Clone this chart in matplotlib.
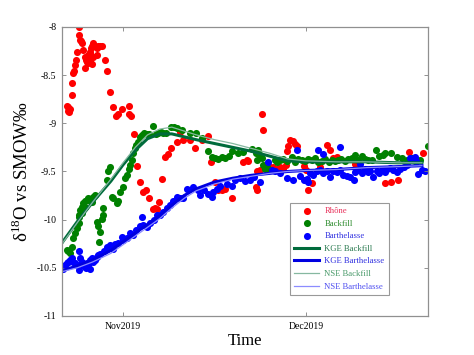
#libraries
import matplotlib
matplotlib.use("Agg")
from matplotlib import pyplot as plt
###########################################################
#data (days relative to 1 Nov 2019, delta18O in permil)
rhone_day = [-9.2, -9.0, -8.7, -8.8, -9.1, -8.4, -8.3, -8.15, -8.0, -7.9,
             -7.75, -7.6, -7.3, -7.2, -7.05, -6.9, -6.8, -6.5, -6.2, -6.1,
             -5.95, -5.7, -5.5, -5.4, -5.3, -5.1, -5.0, -4.9, -4.6, -4.3,
             -4.05, -3.8, -3.5, -5.95, -5.7, -5.4, -5.1, -6.2, -4.3, -4.9,
             -2.95, -2.6, -2.1, -1.7, -1.15, -0.8, -0.2, 0.9, 0.9, 1.3,
             1.8, 2.3, 2.8, 3.3, 3.8, 4.3, 4.9, 5.25, 5.5, 5.95,
             6.3, 6.9, 7.3, 7.8, 8.8, 9.3, 9.9, 10.9, 11.8, 12.9,
             14.0, 14.4, 15.1, 15.6, 16.2, 16.7, 17.8, 19.7, 20.3, 20.5,
             21.8, 21.9, 22.0, 22.5, 22.7, 22.9, 23.6, 23.8, 24.6, 25.2,
             25.7, 26.2, 26.7, 26.8, 27.1, 27.4, 27.8, 28.2, 28.5, 29.6,
             30.0, 30.4, 30.9, 32.3, 33.4, 33.9, 34.5, 35.0, 38.0, 43.0,
             44.0, 45.0, 46.9, 49.1]
rhone_val = [-8.82, -8.83, -8.85, -8.88, -8.87, -8.71, -8.58, -8.48, -8.46, -8.39,
             -8.34, -8.26, -8.00, -8.08, -8.13, -8.15, -8.17, -8.24, -8.31, -8.34,
             -8.33, -8.29, -8.27, -8.26, -8.22, -8.20, -8.19, -8.17, -8.20, -8.22,
             -8.20, -8.20, -8.20, -8.36, -8.37, -8.35, -8.38, -8.43, -8.29, -8.31,
             -8.34, -8.46, -8.68, -8.83, -8.92, -8.90, -8.85, -8.82, -8.90, -8.92,
             -9.11, -9.44, -9.61, -9.71, -9.69, -9.78, -9.89, -9.88, -9.89, -9.82,
             -9.58, -9.35, -9.32, -9.26, -9.19, -9.09, -9.17, -9.17, -9.26, -9.17,
             -9.13, -9.40, -9.61, -9.69, -9.69, -9.68, -9.78, -9.40, -9.38, -9.39,
             -9.66, -9.69, -9.50, -9.48, -8.90, -9.07, -9.42, -9.43, -9.45, -9.47,
             -9.45, -9.47, -9.43, -9.29, -9.24, -9.17, -9.18, -9.21, -9.24, -9.44,
             -9.48, -9.69, -9.62, -9.45, -9.23, -9.28, -9.36, -9.35, -9.42, -9.62,
             -9.61, -9.59, -9.30, -9.31]

backfill_day = [-9.2, -9.0, -8.7, -8.4, -8.15, -7.9, -7.6, -7.3, -7.15, -7.3,
                -7.05, -6.8, -6.8, -6.5, -6.5, -6.2, -6.2, -5.95, -5.7, -5.4,
                -5.1, -4.9, -4.6, -4.3, -4.05, -3.8, -3.9, -3.5, -3.25, -3.3,
                -2.7, -2.4, -2.1, -1.85, -1.6, -1.0, -0.8, -0.5, 0.05, 0.3,
                0.6, 0.9, 1.2, 1.4, 1.7, 2.0, 2.2, 2.5, 2.8, 3.1,
                3.4, 3.9, 4.3, 4.9, 5.4, 5.8, 6.2, 6.6, 7.05, 7.8,
                8.4, 8.9, 9.6, 11.0, 12.0, 12.9, 14.0, 14.5, 15.1, 15.6,
                16.2, 16.7, 17.3, 17.8, 18.9, 19.7, 21.1, 21.8, 22.2, 22.5,
                22.0, 22.7, 23.0, 23.3, 23.6, 24.1, 24.9, 25.2, 25.7, 26.3,
                26.8, 27.7, 28.2, 28.7, 29.3, 29.8, 30.4, 30.9, 31.5, 32.0,
                32.6, 33.1, 33.7, 34.2, 34.8, 35.3, 35.8, 36.4, 36.9, 37.5,
                38.0, 38.6, 39.1, 39.7, 40.2, 40.8, 41.5, 42.0, 42.6, 43.0,
                43.9, 44.9, 45.7, 46.5, 47.3, 48.0, 48.7, 50.0]
backfill_val = [-10.32, -10.33, -10.35, -10.28, -10.19, -10.14, -10.09, -10.04, -9.97, -9.95,
                -9.90, -9.87, -9.93, -9.83, -9.88, -9.81, -9.87, -9.80, -9.78, -9.81,
                -9.82, -9.76, -9.74, -10.02, -10.07, -10.13, -10.23, -9.99, -9.95, -9.88,
                -9.59, -9.50, -9.45, -9.76, -9.78, -9.83, -9.81, -9.71, -9.66, -9.57,
                -9.54, -9.47, -9.43, -9.38, -9.31, -9.26, -9.23, -9.19, -9.14, -9.12,
                -9.10, -9.11, -9.11, -9.03, -9.11, -9.10, -9.09, -9.10, -9.10, -9.04,
                -9.04, -9.05, -9.07, -9.10, -9.10, -9.15, -9.29, -9.35, -9.36, -9.37,
                -9.35, -9.36, -9.34, -9.29, -9.31, -9.30, -9.27, -9.31, -9.28, -9.33,
                -9.38, -9.36, -9.43, -9.47, -9.45, -9.48, -9.38, -9.40, -9.38, -9.37,
                -9.39, -9.35, -9.40, -9.37, -9.38, -9.39, -9.37, -9.38, -9.36, -9.40,
                -9.39, -9.37, -9.40, -9.38, -9.39, -9.38, -9.37, -9.39, -9.37, -9.36,
                -9.33, -9.38, -9.34, -9.37, -9.38, -9.38, -9.28, -9.34, -9.33, -9.31,
                -9.31, -9.35, -9.36, -9.38, -9.36, -9.40, -9.38, -9.24]

barth_day = [-9.8, -9.5, -9.2, -9.0, -8.7, -8.4, -8.15, -7.9, -7.6, -7.3,
             -7.3, -7.05, -6.8, -6.5, -6.2, -6.0, -5.95, -5.7, -5.5, -5.4,
             -5.1, -4.9, -4.6, -4.3, -4.05, -3.8, -3.2, -2.7, -2.1, -1.6,
             -1.3, -0.8, -0.2, 0.05, 0.6, 1.15, 1.7, 2.2, 2.8, 3.1,
             3.3, 3.9, 4.4, 5.0, 5.5, 6.1, 6.6, 7.2, 7.7, 8.25,
             8.8, 9.3, 9.9, 10.4, 11.5, 12.3, 12.6, 13.2, 14.0, 14.5,
             14.8, 15.4, 15.9, 17.0, 17.8, 18.4, 19.2, 20.0, 20.8, 21.4,
             22.5, 23.8, 24.4, 24.9, 25.7, 26.8, 27.9, 28.5, 29.0, 29.6,
             30.1, 30.4, 30.7, 31.2, 31.8, 32.0, 32.3, 32.8, 32.8, 33.4,
             33.9, 34.5, 35.0, 35.5, 35.6, 36.1, 36.7, 37.2, 37.8, 38.0,
             38.6, 38.9, 39.1, 39.7, 40.2, 40.5, 41.0, 41.6, 41.9, 42.4,
             43.0, 43.2, 43.8, 44.3, 44.9, 45.4, 46.0, 46.5, 47.0, 47.9,
             48.1, 48.4, 49.0, 49.5]
barth_val = [-10.51, -10.47, -10.45, -10.44, -10.42, -10.40, -10.44, -10.45, -10.47, -10.33,
             -10.52, -10.40, -10.44, -10.47, -10.49, -10.50, -10.45, -10.47, -10.51, -10.42,
             -10.40, -10.44, -10.42, -10.39, -10.37, -10.36, -10.33, -10.28, -10.26, -10.30,
             -10.25, -10.24, -10.18, -10.21, -10.19, -10.14, -10.16, -10.11, -10.07, -9.97,
             -10.06, -10.08, -10.04, -10.00, -9.95, -9.95, -9.92, -9.88, -9.85, -9.81,
             -9.76, -9.78, -9.78, -9.68, -9.66, -9.69, -9.74, -9.69, -9.73, -9.76,
             -9.71, -9.68, -9.65, -9.63, -9.65, -9.59, -9.57, -9.60, -9.59, -9.56,
             -9.61, -9.40, -9.48, -9.50, -9.52, -9.57, -9.59, -9.28, -9.55, -9.59,
             -9.58, -9.61, -9.52, -9.54, -9.50, -9.28, -9.48, -9.52, -9.32, -9.50,
             -9.56, -9.49, -9.51, -9.25, -9.48, -9.54, -9.55, -9.56, -9.59, -9.51,
             -9.48, -9.42, -9.52, -9.47, -9.51, -9.50, -9.56, -9.50, -9.52, -9.48,
             -9.51, -9.47, -9.46, -9.48, -9.51, -9.47, -9.45, -9.43, -9.36, -9.35,
             -9.39, -9.53, -9.48, -9.50]

#model curves
model_day = [-10, -7.5, -5, -2, 0, 2, 4, 6, 8, 10, 12, 15, 18, 21, 24, 27, 30, 35, 40, 45, 49]
kge_backfill = [-10.24, -10.02, -9.82, -9.60, -9.43, -9.28, -9.16, -9.11, -9.11, -9.14,
                -9.17, -9.21, -9.25, -9.29, -9.34, -9.39, -9.40, -9.40, -9.40, -9.41, -9.41]
nse_backfill = [-10.25, -10.03, -9.82, -9.58, -9.41, -9.25, -9.12, -9.06, -9.04, -9.08,
                -9.12, -9.17, -9.21, -9.26, -9.31, -9.37, -9.39, -9.40, -9.40, -9.41, -9.41]
kge_barth = [-10.53, -10.48, -10.42, -10.32, -10.23, -10.14, -10.05, -9.96, -9.85, -9.75,
             -9.68, -9.61, -9.57, -9.54, -9.52, -9.50, -9.49, -9.48, -9.46, -9.45, -9.44]
nse_barth = [-10.54, -10.50, -10.44, -10.35, -10.26, -10.17, -10.08, -9.99, -9.88, -9.78,
             -9.70, -9.63, -9.58, -9.55, -9.52, -9.50, -9.49, -9.48, -9.46, -9.45, -9.44]

xtick_pos = [0, 30]
xtick_lab = ["Nov2019", "Dec2019"]
yticks = [-11, -10.5, -10, -9.5, -9, -8.5, -8]
###########################################################
#style
plt.rcParams['font.family'] = ['Liberation Serif', 'DejaVu Serif']
plt.rcParams['mathtext.fontset'] = 'custom'
plt.rcParams['mathtext.rm'] = 'Liberation Serif'

fig = plt.figure(figsize=(4.74, 3.55), dpi=100)
ax = fig.add_axes([0.131, 0.110, 0.772, 0.814])

ms = 26
ax.scatter(rhone_day, rhone_val, s=ms, color='#ff0000', linewidths=0, label='Rhône')
ax.scatter(backfill_day, backfill_val, s=ms, color='#008000', linewidths=0, label='Backfill')
ax.scatter(barth_day, barth_val, s=ms, color='#0000ff', linewidths=0, label='Barthelasse')
ax.plot(model_day, kge_backfill, color='#006b3c', lw=2.2, label='KGE Backfill')
ax.plot(model_day, kge_barth, color='#0000e0', lw=2.2, label='KGE Barthelasse')
ax.plot(model_day, nse_backfill, color='#86b8a0', lw=0.9, label='NSE Backfill')
ax.plot(model_day, nse_barth, color='#8c8cff', lw=0.9, label='NSE Barthelasse')

ax.set_xlim(-10, 50)
ax.set_ylim(-11, -8)
ax.set_xticks(xtick_pos)
ax.set_xticklabels(xtick_lab)
ax.set_yticks(yticks)
ax.set_yticklabels(['%g' % v for v in yticks])
ax.tick_params(direction='in', top=True, right=True, labelsize=7, length=3,
               width=0.6, color='#808080', pad=4)
for sp in ax.spines.values():
    sp.set_color('#909090')
    sp.set_linewidth(0.9)

ax.set_xlabel('Time', fontsize=12, labelpad=2)
ax.set_ylabel(r'δ$^{18}$O vs SMOW‰', fontsize=13.5, labelpad=3)

leg = ax.legend(loc='lower right', bbox_to_anchor=(0.893, 0.073), fontsize=6.2,
                frameon=True, fancybox=False, edgecolor='#808080', handlelength=2.9,
                labelspacing=0.53, borderpad=0.5, handletextpad=0.6, scatterpoints=1,
                borderaxespad=0)
leg.get_frame().set_linewidth(0.8)
txtcol = ['#e8305a', '#2a8a2a', '#3030e0', '#2a7a50', '#3030e0', '#4a9a6a', '#5050f0']
for t, c in zip(leg.get_texts(), txtcol):
    t.set_color(c)

fig.savefig('out.png', dpi=100)
